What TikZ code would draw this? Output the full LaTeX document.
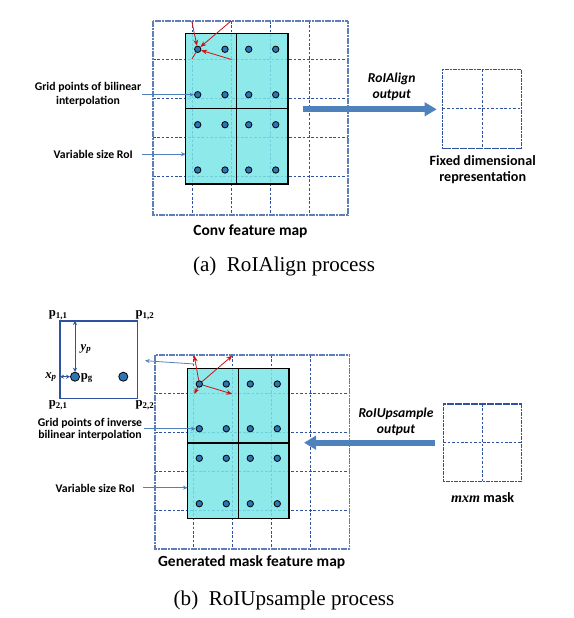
\documentclass[tikz,border=0pt]{standalone}
\usepackage{fontspec}
\setmainfont{Liberation Serif}
\setsansfont{Carlito}
\usetikzlibrary{arrows.meta}
\definecolor{gridblue}{RGB}{47,82,160}
\definecolor{boxblue}{RGB}{95,125,185}
\definecolor{arrowblue}{RGB}{79,129,189}
\definecolor{roicyan}{RGB}{122,230,230}
\definecolor{dotblue}{RGB}{46,117,182}
\definecolor{redarr}{RGB}{205,20,20}
\begin{document}
\begin{tikzpicture}[x=0.75pt,y=-0.75pt,
  gridline/.style={draw=gridblue, dash pattern=on 2pt off 1.3pt, line width=0.6pt},
  outerbox/.style={draw=boxblue, line width=1.2pt, dash pattern=on 2pt off 0.5pt},
  smallbox/.style={draw=gridblue, line width=0.9pt, dash pattern=on 1.6pt off 0.4pt},
  roi/.style={draw=black, fill=roicyan, fill opacity=0.85, line width=1pt},
  divider/.style={draw=black, line width=1pt},
  dot/.style={circle, draw=black, fill=dotblue, line width=0.6pt, inner sep=0pt, minimum size=4.8pt},
  bigdot/.style={dot, minimum size=6.8pt},
  lbl/.style={font=\sffamily\bfseries\fontsize{8.8}{10.8}\selectfont, align=center, text=black, inner sep=0pt},
  rlbl/.style={font=\sffamily\bfseries\fontsize{10.6}{12.2}\selectfont, align=center, text=black, inner sep=0pt},
  title/.style={font=\sffamily\bfseries\fontsize{11.6}{13}\selectfont, inner sep=0pt},
  italbl/.style={font=\sffamily\bfseries\itshape\fontsize{10.2}{12}\selectfont, align=center, inner sep=0pt},
  caption/.style={font=\fontsize{15.8}{18}\selectfont, inner sep=0pt},
  plbl/.style={font=\bfseries\fontsize{9.5}{11}\selectfont, inner sep=0pt},
  pointer/.style={draw=arrowblue, line width=0.6pt, -{Stealth[length=3.5pt,width=3pt]}},
  redarrow/.style={draw=redarr, line width=0.6pt, -{Stealth[length=4.5pt,width=3.6pt]}},
  bigarrow/.style={draw=arrowblue, line width=4.5pt, -{Triangle[length=9pt,width=10pt]}},
  dblarrow/.style={draw=gridblue, line width=0.7pt, {Stealth[length=3pt,width=3pt]}-{Stealth[length=3pt,width=3pt]}}
]
\useasboundingbox (0,0) rectangle (574,618);

% ================= Panel (a) =================
\foreach \i in {1,...,4}
  \draw[gridline] ({153+39*\i},21) -- ({153+39*\i},215);
\foreach \j in {1,...,4}
  \draw[gridline] (153,{21+38.8*\j}) -- (348,{21+38.8*\j});
\draw[roi] (185.7,33.3) rectangle (288,184);
\draw[divider] (236.7,33.3) -- (236.7,184);
\draw[divider] (185.7,108.7) -- (288,108.7);
\draw[outerbox] (153,21) rectangle (348,215);

\foreach \c/\xx in {1/197.7,2/225,3/248.7,4/275.7}
  \foreach \r/\yy in {1/49.3,2/94.7,3/124.7,4/170}
    \node[dot] (a\r\c) at (\xx,\yy) {};

\coordinate (ca1) at (191.7,21);
\coordinate (ca2) at (231,21);
\coordinate (ca3) at (231.5,59.5);
\coordinate (ca4) at (192,59);
\draw[redarrow] (ca1) -- (a11);
\draw[redarrow] (ca2) -- (a11);
\draw[redarrow] (ca3) -- (a11);
\draw[draw=redarr, line width=0.6pt] (ca4) -- (a11);

\node[lbl] (gpa) at (88,94.5) {Grid points of bilinear\\interpolation};
\coordinate (gpas) at (141.7,94.7);
\draw[pointer] (gpas) -- (a21.west);
\node[lbl, anchor=east] (vra) at (133,154.2) {Variable size RoI};
\coordinate (vras) at (141.7,154.2);
\coordinate (vrae) at (185.7,154.2);
\draw[pointer] (vras) -- (vrae);

\coordinate (bas) at (302.7,109.3);
\coordinate (bae) at (436.7,109.3);
\draw[bigarrow] (bas) -- (bae);
\node[italbl] (raout) at (391.7,87) {RoIAlign\\output};

\draw[smallbox] (442.7,69.3) rectangle (521.7,148.3);
\draw[gridline] (482.2,69.3) -- (482.2,148.3);
\draw[gridline] (442.7,108.8) -- (521.7,108.8);
\node[rlbl] (fdr) at (482.7,169.3) {Fixed dimensional\\representation};

\node[title] (cfm) at (250.5,231.5) {Conv feature map};
\node[caption] (capa) at (284,266.7) {(a)\ \ RoIAlign process};

% ================= Panel (b) =================
\foreach \i in {1,...,4}
  \draw[gridline] ({155+38.85*\i},355) -- ({155+38.85*\i},549);
\foreach \j in {1,...,4}
  \draw[gridline] (155,{355+38.85*\j}) -- (349.3,{355+38.85*\j});
\draw[roi] (187.7,368.3) rectangle (289,518.3);
\draw[divider] (238.3,368.3) -- (238.3,518.3);
\draw[divider] (187.7,443) -- (289,443);
\draw[outerbox] (155,355) rectangle (349.3,549);

\foreach \c/\xx in {1/199.3,2/226.3,3/250.3,4/277.3}
  \foreach \r/\yy in {1/384,2/428.7,3/458.3,4/503.7}
    \node[dot] (b\r\c) at (\xx,\yy) {};

\coordinate (cb1) at (194.3,355.7);
\coordinate (cb2) at (232.3,355.7);
\coordinate (cb3) at (232.3,394);
\coordinate (cb4) at (194.3,394);
\draw[redarrow] (b11) -- (cb1);
\draw[redarrow] (b11) -- (cb2);
\draw[redarrow] (b11) -- (cb3);
\draw[redarrow] (b11) -- (cb4);

\coordinate (bls) at (194.3,364);
\coordinate (ble) at (145,360.7);
\draw[pointer] (bls) -- (ble);

\node[lbl, font=\sffamily\bfseries\fontsize{8.8}{9.2}\selectfont] (gpb) at (90,429.2) {Grid points of inverse\\bilinear interpolation};
\coordinate (gpbs) at (144,428.7);
\draw[pointer] (gpbs) -- (b21.west);
\node[lbl, anchor=east] (vrb) at (135,488.3) {Variable size RoI};
\coordinate (vrbs) at (143,487.7);
\coordinate (vrbe) at (187.7,487.7);
\draw[pointer] (vrbs) -- (vrbe);

\coordinate (bbs) at (435,442.7);
\coordinate (bbe) at (304,442.7);
\draw[bigarrow] (bbs) -- (bbe);
\node[italbl] (ruout) at (396,422) {RoIUpsample\\output};

\draw[smallbox] (443.3,404) rectangle (521.7,481.7);
\draw[gridline] (482.7,404) -- (482.7,481.7);
\draw[gridline] (443.3,442.7) -- (521.7,442.7);
\node[rlbl] (mask) at (482.7,497.3) {{\rmfamily\bfseries\itshape mxm} mask};

\node[title] (gmfm) at (251.7,562.7) {Generated mask feature map};
\node[caption] (capb) at (284,600) {(b)\ \ RoIUpsample process};

% small inset box
\draw[draw=gridblue, line width=0.9pt] (60,321) rectangle (137.7,398.7);
\node[plbl] (p11) at (58.3,315) {p\textsubscript{1,1}};
\node[plbl] (p12) at (145,315) {p\textsubscript{1,2}};
\node[plbl] (p21) at (58.3,405) {p\textsubscript{2,1}};
\node[plbl] (p22) at (145,405) {p\textsubscript{2,2}};
\node[bigdot] (pg) at (75,376.7) {};
\node[bigdot] (pq) at (123.3,376.7) {};
\coordinate (ytop) at (75,321);
\coordinate (xleft) at (60,376.7);
\draw[dblarrow] (ytop) -- (pg.north);
\draw[dblarrow] (xleft) -- (pg.west);
\node[plbl, font=\bfseries\itshape\fontsize{9.5}{11}\selectfont] (yp) at (86,349.3) {y\textsubscript{p}};
\node[plbl, font=\bfseries\itshape\fontsize{9.5}{11}\selectfont, anchor=east] (xp) at (57,377.3) {x\textsubscript{p}};
\node[plbl, anchor=west] (pgl) at (80.5,378) {p\textsubscript{g}};
\end{tikzpicture}
\end{document}
